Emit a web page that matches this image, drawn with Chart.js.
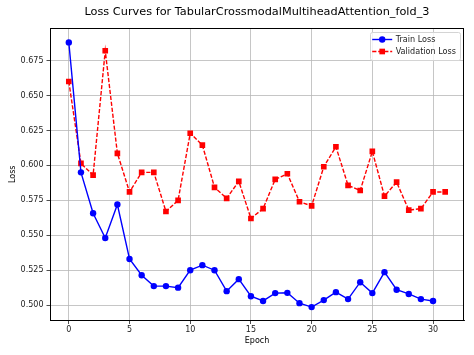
<!DOCTYPE html>
<html><head><meta charset="utf-8">
<script src="https://cdn.jsdelivr.net/npm/chart.js@4/dist/chart.umd.min.js"></script>
<style>html,body{margin:0;padding:0;background:#fff;}#wrap{width:474px;height:355px;}</style>
</head><body><div id="wrap"><canvas id="c" width="474" height="355"></canvas></div>
<script>
const chartTitle = 'Loss Curves for TabularCrossmodalMultiheadAttention_fold_3';
const trainEpochs = [0,1,2,3,4,5,6,7,8,9,10,11,12,13,14,15,16,17,18,19,20,21,22,23,24,25,26,27,28,29,30];
const trainLoss = [0.688,0.595,0.5657,0.548,0.572,0.533,0.5214,0.5136,0.5136,0.5125,0.525,0.5286,0.525,0.510,0.5186,0.5064,0.503,0.5086,0.5088,0.5014,0.4986,0.5036,0.5093,0.5043,0.5164,0.5086,0.5236,0.511,0.508,0.5043,0.503];
const valEpochs = [0,1,2,3,4,5,6,7,8,9,10,11,12,13,14,15,16,17,18,19,20,21,22,23,24,25,26,27,28,29,30,31];
const valLoss = [0.660,0.6014,0.593,0.682,0.6086,0.581,0.595,0.595,0.567,0.575,0.623,0.6145,0.5843,0.5764,0.5886,0.562,0.569,0.590,0.594,0.574,0.571,0.599,0.6133,0.5857,0.582,0.610,0.578,0.588,0.568,0.569,0.581,0.581];
const xTickValues = [0,5,10,15,20,25,30];
const yTickValues = [0.500,0.525,0.550,0.575,0.600,0.625,0.650,0.675];
const seriesNames = ['Train Loss','Validation Loss'];
const xAxisLabel = 'Epoch';
const yAxisLabel = 'Loss';

const FONT = 'DejaVu Sans';
const pts = (xs, ys) => xs.map((x, i) => ({x: x, y: ys[i]}));

const framePlugin = {
  id: 'frame',
  afterDatasetsDraw(chart) {
    const {ctx, chartArea: a} = chart;
    ctx.save();
    ctx.strokeStyle = '#000';
    ctx.lineWidth = 1;
    ctx.strokeRect(Math.round(a.left) + 0.5, Math.round(a.top) + 0.5, Math.round(a.right - a.left) - 1, Math.round(a.bottom - a.top) - 1);
    ctx.restore();
  }
};

const titlePlugin = {
  id: 'mplTitle',
  afterDraw(chart) {
    const {ctx, chartArea: a} = chart;
    ctx.save();
    ctx.font = '11.3px "' + FONT + '"';
    ctx.fillStyle = '#000';
    ctx.textAlign = 'center';
    ctx.textBaseline = 'middle';
    ctx.fillText(chartTitle, (a.left + a.right) / 2, 12);
    ctx.restore();
  }
};

const legendPlugin = {
  id: 'mplLegend',
  afterDraw(chart) {
    const {ctx, chartArea: a} = chart;
    const ds = chart.data.datasets;
    ctx.save();
    ctx.font = '8.1px "' + FONT + '"';
    let tw = 0;
    ds.forEach(d => { tw = Math.max(tw, ctx.measureText(d.label).width); });
    const boxW = 25.5 + tw + 4.5;
    const boxH = 28;
    const bx = a.right - 3.5 - boxW;
    const by = a.top + 3.5;
    ctx.fillStyle = 'rgba(255,255,255,0.8)';
    ctx.strokeStyle = '#d4d4d4';
    ctx.lineWidth = 1;
    ctx.beginPath();
    ctx.roundRect(Math.round(bx) + 0.5, Math.round(by) + 0.5, Math.round(boxW), boxH, 2);
    ctx.fill(); ctx.stroke();
    ds.forEach((d, i) => {
      const yy = by + 8 + i * 12;
      const x0 = bx + 2, x1 = bx + 22;
      ctx.strokeStyle = d.borderColor;
      ctx.lineWidth = d.borderWidth;
      ctx.setLineDash(d.borderDash || []);
      ctx.beginPath(); ctx.moveTo(x0, yy); ctx.lineTo(x1, yy); ctx.stroke();
      ctx.setLineDash([]);
      ctx.fillStyle = d.pointBackgroundColor;
      ctx.beginPath();
      const cx = (x0 + x1) / 2;
      if (d.pointStyle === 'circle') { ctx.arc(cx, yy, d.pointRadius, 0, Math.PI * 2); }
      else { const s = d.pointRadius * Math.SQRT1_2; ctx.rect(cx - s, yy - s, 2 * s, 2 * s); }
      ctx.fill();
      ctx.fillStyle = '#222';
      ctx.textBaseline = 'middle';
      ctx.textAlign = 'left';
      ctx.fillText(d.label, x1 + 3.5, yy + 0.5);
    });
    ctx.restore();
  }
};

new Chart(document.getElementById('c'), {
  type: 'line',
  data: {
    datasets: [
      {label: seriesNames[0], data: pts(trainEpochs, trainLoss), borderColor: '#0000ff', backgroundColor: '#0000ff',
       pointBackgroundColor: '#0000ff', pointBorderColor: '#0000ff', pointStyle: 'circle', pointRadius: 3.2, pointBorderWidth: 0,
       borderWidth: 1.4, tension: 0, fill: false},
      {label: seriesNames[1], data: pts(valEpochs, valLoss), borderColor: '#ff0000', backgroundColor: '#ff0000',
       pointBackgroundColor: '#ff0000', pointBorderColor: '#ff0000', pointStyle: 'rect', pointRadius: 4.0, pointBorderWidth: 0,
       borderWidth: 1.4, borderDash: [4.2, 1.8], tension: 0, fill: false}
    ]
  },
  options: {
    responsive: false,
    animation: false,
    devicePixelRatio: 1,
    layout: {padding: {left: 0, right: 10, top: 28, bottom: 0}},
    plugins: {
      legend: {display: false},
      tooltip: {enabled: false},
      title: {display: false}
    },
    scales: {
      x: {
        type: 'linear', min: -1.55, max: 32.55,
        afterBuildTicks: s => { s.ticks = xTickValues.map(v => ({value: v})); },
        afterFit: s => { s.height = 34.5; },
        ticks: {color: '#222', font: {family: FONT, size: 8}, padding: 1, maxRotation: 0, autoSkip: false, callback: v => String(v)},
        grid: {color: '#b8b8b8', lineWidth: 0.8, tickLength: 3.5, tickColor: '#222', drawTicks: true},
        border: {display: true, color: '#000', width: 1},
        title: {display: true, text: xAxisLabel, color: '#000', font: {family: FONT, size: 8}, padding: {top: 0, bottom: 9.5}}
      },
      y: {
        type: 'linear', min: 0.489, max: 0.6983,
        afterBuildTicks: s => { s.ticks = yTickValues.map(v => ({value: v})); },
        afterFit: s => { s.width = 50; },
        ticks: {color: '#222', font: {family: FONT, size: 8}, padding: 3, autoSkip: false, callback: v => Number(v).toFixed(3)},
        grid: {color: '#b8b8b8', lineWidth: 0.8, tickLength: 3.5, tickColor: '#222', drawTicks: true},
        border: {display: true, color: '#000', width: 1},
        title: {display: true, text: yAxisLabel, color: '#000', font: {family: FONT, size: 8}, padding: {top: 8.5, bottom: 0}}
      }
    }
  },
  plugins: [framePlugin, titlePlugin, legendPlugin]
});
</script></body></html>
